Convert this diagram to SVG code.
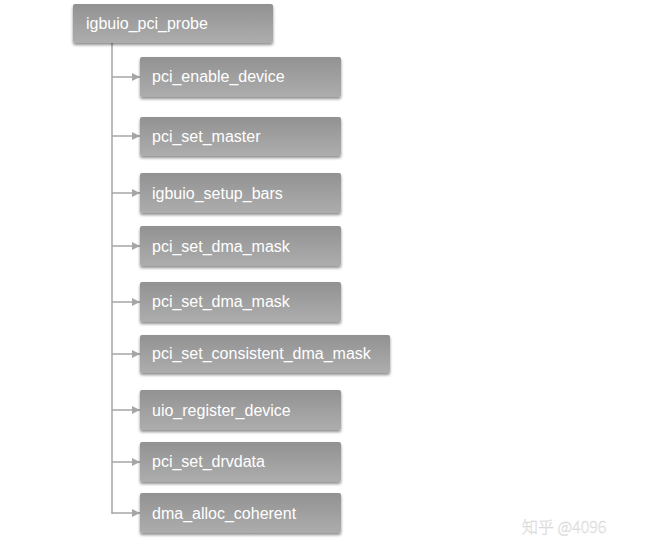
<svg xmlns="http://www.w3.org/2000/svg" width="649" height="555" viewBox="0 0 649 555">
<defs>
<linearGradient id="g" x1="0" y1="0" x2="0" y2="1">
<stop offset="0" stop-color="#929292"/>
<stop offset="1" stop-color="#adadad"/>
</linearGradient>
<filter id="sh" x="-10%" y="-20%" width="120%" height="160%">
<feGaussianBlur in="SourceAlpha" stdDeviation="1.6"/>
<feOffset dx="0" dy="2" result="b"/>
<feComponentTransfer><feFuncA type="linear" slope="0.45"/></feComponentTransfer>
<feMerge><feMergeNode/><feMergeNode in="SourceGraphic"/></feMerge>
</filter>
<marker id="ah" markerWidth="9" markerHeight="9" refX="8" refY="4.5" orient="auto" markerUnits="userSpaceOnUse">
<path d="M0,0.5 L8,4.5 L0,8.5 Z" fill="#a6a6a6"/>
</marker>
<style>
.box{fill:url(#g);filter:url(#sh);}
.t{font-family:"Liberation Sans",Arial,sans-serif;font-size:16px;fill:#ffffff;}
.c{stroke:#a6a6a6;stroke-width:1.5;fill:none;}
.wm{font-family:"Noto Sans CJK SC","Liberation Sans",sans-serif;font-size:16px;font-weight:300;fill:#f4f4f4;stroke:#d6d6d6;stroke-width:0.4;}
</style>
</defs>
<rect width="649" height="555" fill="#ffffff"/>
<g id="connectors">
<path class="c" d="M112,43 V514"/>
<path class="c" d="M112,77 H140" marker-end="url(#ah)"/>
<path class="c" d="M112,136 H140" marker-end="url(#ah)"/>
<path class="c" d="M112,193 H140" marker-end="url(#ah)"/>
<path class="c" d="M112,246 H140" marker-end="url(#ah)"/>
<path class="c" d="M112,302 H140" marker-end="url(#ah)"/>
<path class="c" d="M112,354 H140" marker-end="url(#ah)"/>
<path class="c" d="M112,410 H140" marker-end="url(#ah)"/>
<path class="c" d="M112,462 H140" marker-end="url(#ah)"/>
<path class="c" d="M112,513 H140" marker-end="url(#ah)"/>
</g>
<g id="n0"><rect class="box" x="73" y="4" width="200" height="39" rx="2"/><text class="t" x="86" y="29">igbuio_pci_probe</text></g>
<g id="n1"><rect class="box" x="140" y="57" width="201" height="40" rx="2"/><text class="t" x="152" y="82">pci_enable_device</text></g>
<g id="n2"><rect class="box" x="140" y="117" width="201" height="39" rx="2"/><text class="t" x="152" y="142">pci_set_master</text></g>
<g id="n3"><rect class="box" x="140" y="173" width="201" height="40" rx="2"/><text class="t" x="152" y="199">igbuio_setup_bars</text></g>
<g id="n4"><rect class="box" x="140" y="226" width="201" height="40" rx="2"/><text class="t" x="152" y="252">pci_set_dma_mask</text></g>
<g id="n5"><rect class="box" x="140" y="282" width="201" height="40" rx="2"/><text class="t" x="152" y="307">pci_set_dma_mask</text></g>
<g id="n6"><rect class="box" x="140" y="335" width="250" height="38" rx="2"/><text class="t" x="152" y="359">pci_set_consistent_dma_mask</text></g>
<g id="n7"><rect class="box" x="140" y="390" width="201" height="40" rx="2"/><text class="t" x="152" y="416">uio_register_device</text></g>
<g id="n8"><rect class="box" x="140" y="442" width="201" height="40" rx="2"/><text class="t" x="152" y="467">pci_set_drvdata</text></g>
<g id="n9"><rect class="box" x="140" y="493" width="201" height="40" rx="2"/><text class="t" x="152" y="519">dma_alloc_coherent</text></g>
<text class="wm" x="522" y="533">知乎 @4096</text>
</svg>
